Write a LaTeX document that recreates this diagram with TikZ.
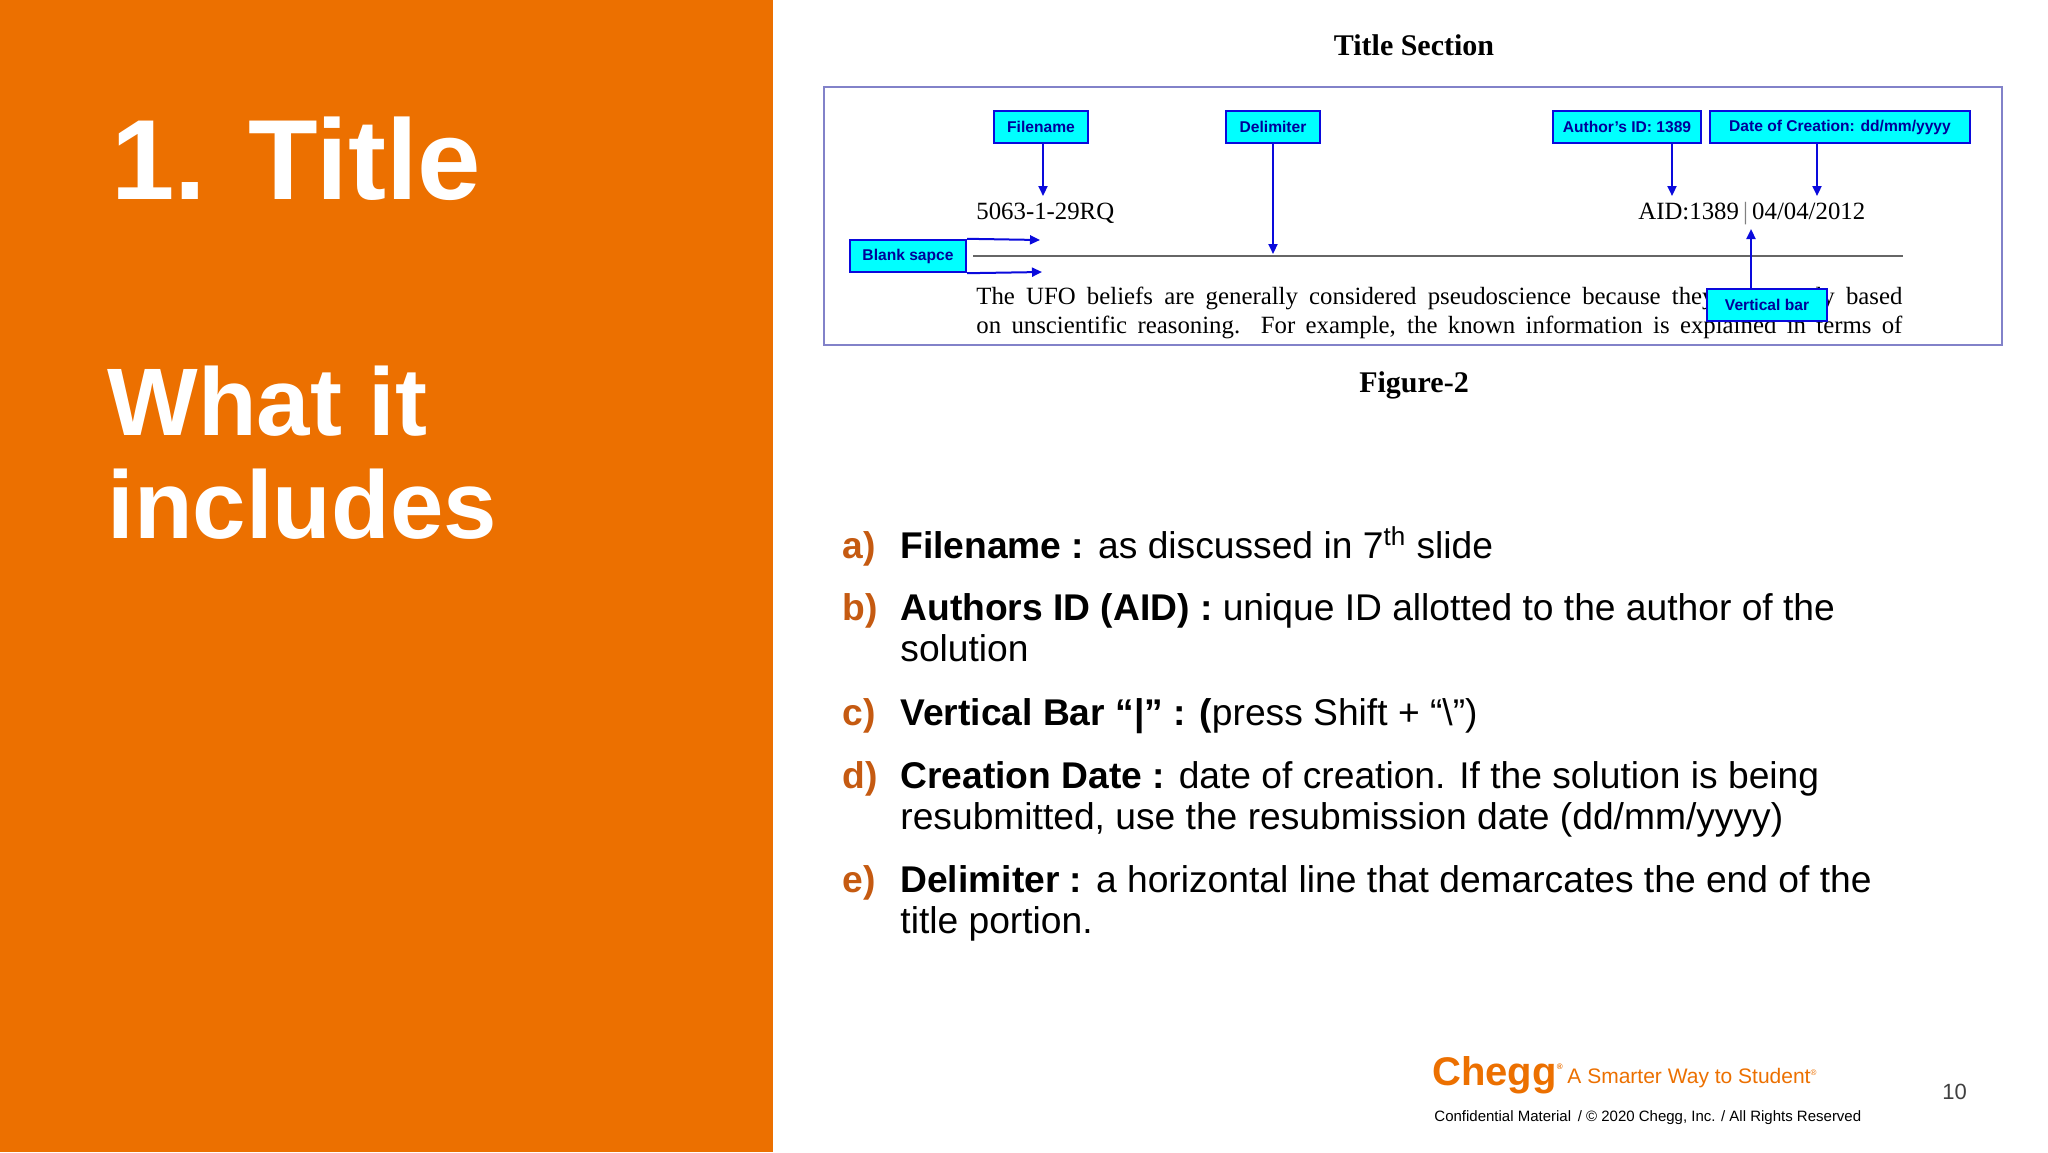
\documentclass[tikz,border=0pt]{standalone}
\usepackage{fontspec}
\setmainfont{Liberation Sans}
\newfontfamily\serif{Liberation Serif}
\usetikzlibrary{arrows.meta}
\definecolor{org}{HTML}{EC7000}
\definecolor{lbl}{HTML}{C55A11}
\definecolor{bxblue}{HTML}{0A0ADC}
\definecolor{bxfill}{HTML}{00FFFF}
\tikzset{
  lab/.style={draw=bxblue,line width=1.2pt,fill=bxfill,text=blue!60!black,font=\fontsize{7.8}{8}\selectfont\bfseries,inner sep=0pt,minimum height=16pt},
  arr/.style={draw=bxblue,line width=1pt,-{Triangle[length=5pt,width=4.5pt]}},
  ser/.style={font=\serif\fontsize{12.4}{14.5}\selectfont,inner sep=0pt},
  item/.style={anchor=base west,inner sep=0pt,font=\fontsize{18.6}{20.5}\selectfont},
  itl/.style={anchor=base west,inner sep=0pt,text=lbl,font=\fontsize{18.6}{20.5}\selectfont\bfseries}
}
\begin{document}
\begin{tikzpicture}[x=0.5pt,y=-0.5pt]
\useasboundingbox (0,0) rectangle (2048,1152);
\fill[white] (0,0) rectangle (2048,1152);
\fill[org] (0,0) rectangle (773,1152);
\node[anchor=base west,inner sep=0pt,text=white,font=\fontsize{57}{57}\selectfont\bfseries] (t1) at (111,199) {1. Title};
\node[anchor=base west,inner sep=0pt,text=white,font=\fontsize{48}{51.5}\selectfont\bfseries] (t2) at (107,435) {\parbox[t]{400pt}{What it\\includes}};
% figure
\node[font=\serif\bfseries\fontsize{15}{15}\selectfont,anchor=base] (ts) at (1414,55) {Title Section};
\draw[draw=blue!40!gray!70,line width=0.8pt] (824,87) rectangle (2002,345);
\node[font=\serif\bfseries\fontsize{15}{15}\selectfont,anchor=base] (f2) at (1414,392) {Figure-2};
\node[lab,minimum width=47pt] (fn) at (1041,127) {Filename};
\node[lab,minimum width=47pt] (dl) at (1273,127) {Delimiter};
\node[lab,minimum width=74pt] (au) at (1627,127) {Author's ID: 1389};
\node[lab,minimum width=130pt] (dt) at (1840,127) {Date of Creation: dd/mm/yyyy};
\node[ser,anchor=base west] (file) at (976,219) {5063-1-29RQ};
\node[ser,anchor=base west] (aid) at (1638,219) {AID:1389\,\textcolor{gray}{|}\,04/04/2012};
\coordinate (l1) at (973,256); \coordinate (l2) at (1903,256);
\draw[gray!80!black,line width=1pt] (l1) -- (l2);
\node[ser,anchor=base west] (para1) at (976,304) {\makebox[463pt][s]{The UFO beliefs are generally considered pseudoscience because they are mostly based}};
\node[ser,anchor=base west] (para2) at (976,333) {\makebox[463pt][s]{on unscientific reasoning. For example, the known information is explained in terms of}};
\node[lab,minimum width=58pt] (bs) at (908,256) {Blank sapce};
\node[lab,minimum width=60pt] (vb) at (1767,305) {Vertical bar};
\coordinate (fa) at (1043,196); \coordinate (da) at (1273,254);
\coordinate (aa) at (1672,196); \coordinate (ea) at (1817,196);
\coordinate (va) at (1751,229);
\coordinate (b1) at (1040,240); \coordinate (b2) at (1042,272);
\draw[arr] (fn.south -| fa) -- (fa);
\draw[arr] (dl.south) -- (da);
\draw[arr] (au.south -| aa) -- (aa);
\draw[arr] (dt.south -| ea) -- (ea);
\draw[arr] (vb.north -| va) -- (va);
\draw[arr] (bs.north east) -- (b1);
\draw[arr] (bs.south east) -- (b2);
% list
\node[itl] (la) at (842,558) {a)};
\node[item] (ia) at (900,558) {\textbf{Filename :} as discussed in 7\textsuperscript{th} slide};
\node[itl] (lb) at (842,620) {b)};
\node[item] (ib) at (900,620) {\parbox[t]{520pt}{\textbf{Authors ID (AID) :} unique ID allotted to the author of the\\solution}};
\node[itl] (lc) at (842,725) {c)};
\node[item] (ic) at (900,725) {\textbf{Vertical Bar “|” : (}press Shift + “\textbackslash”)};
\node[itl] (ld) at (842,788) {d)};
\node[item] (id) at (900,788) {\parbox[t]{520pt}{\textbf{Creation Date :} date of creation. If the solution is being\\resubmitted, use the resubmission date (dd/mm/yyyy)}};
\node[itl] (le) at (842,892) {e)};
\node[item] (ie) at (900,892) {\parbox[t]{520pt}{\textbf{Delimiter :} a horizontal line that demarcates the end of the\\title portion.}};
% footer
\node[anchor=base west,inner sep=0pt,text=org,font=\fontsize{20}{20}\selectfont\bfseries] (cg) at (1432,1085) {Chegg\textsuperscript{\fontsize{4}{4}\selectfont ®}};
\node[anchor=base west,inner sep=0pt,text=org,font=\fontsize{10.5}{10}\selectfont] (sl) at (1567,1083) {A Smarter Way to Student\textsuperscript{\fontsize{4}{4}\selectfont ®}};
\node[anchor=base west,inner sep=0pt,font=\fontsize{7.5}{8}\selectfont] (cf) at (1434,1121) {Confidential Material\, / © 2020 Chegg, Inc. / All Rights Reserved};
\node[anchor=base west,inner sep=0pt,text=black!75,font=\fontsize{11}{11}\selectfont] (pn) at (1942,1099) {10};
\end{tikzpicture}
\end{document}
